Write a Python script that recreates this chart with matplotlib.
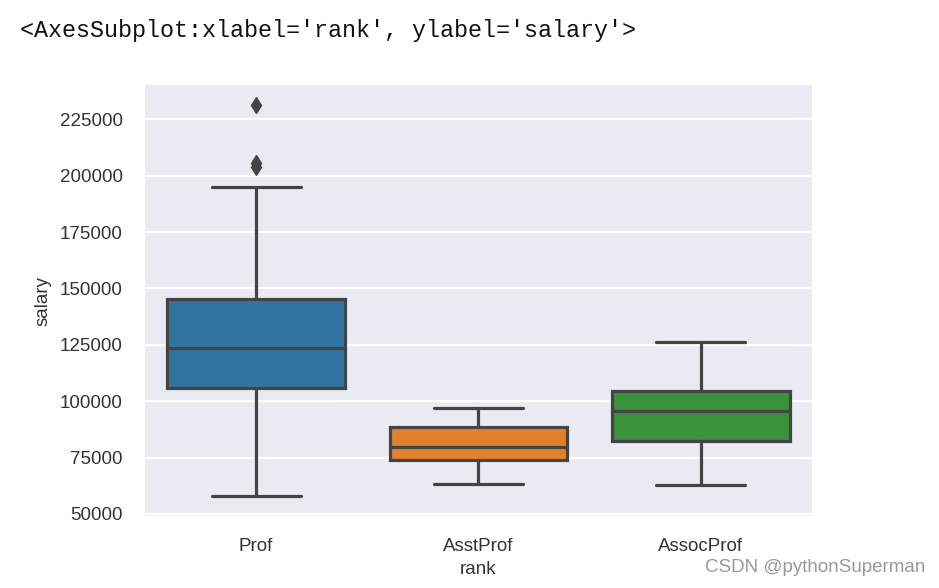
import matplotlib
matplotlib.use("Agg")
import matplotlib.pyplot as plt
import seaborn as sns

sns.set_theme(style="darkgrid")
plt.rcParams['font.family'] = ['Liberation Sans', 'DejaVu Sans']

# box statistics per rank
ranks = ["Prof", "AsstProf", "AssocProf"]
q1 = [105890, 74000, 82350]
medians = [123500, 79800, 95626]
q3 = [145098, 88597, 104330]
whis_lo = [57800, 63100, 62884]
whis_hi = [194800, 97032, 126431]
fliers = [[231545, 204000, 205500], [], []]
colors = ["#3274a1", "#e1812c", "#3a923a"]

stats = []
for i, r in enumerate(ranks):
    stats.append(dict(label=r, q1=q1[i], med=medians[i], q3=q3[i],
                      whislo=whis_lo[i], whishi=whis_hi[i], fliers=fliers[i]))

fig = plt.figure(figsize=(9.39, 5.88), dpi=100)
ax = fig.add_axes([145/939, 1-516/588, 667/939, 431/588])

line_c = "#444444"
lw = 2.3
bp = ax.bxp(stats, positions=range(len(ranks)), widths=0.8, patch_artist=True,
            boxprops=dict(edgecolor=line_c, linewidth=lw),
            medianprops=dict(color=line_c, linewidth=lw),
            whiskerprops=dict(color=line_c, linewidth=lw),
            capprops=dict(color=line_c, linewidth=lw),
            flierprops=dict(marker="d", markerfacecolor=line_c, markeredgecolor=line_c,
                            markersize=8))
for patch, c in zip(bp["boxes"], colors):
    patch.set_facecolor(c)

ax.set_xlim(-0.5, 2.5)
ax.set_ylim(49100, 240200)
ax.set_yticks([50000, 75000, 100000, 125000, 150000, 175000, 200000, 225000])
ax.set_yticklabels(["50000", "75000", "100000", "125000", "150000", "175000",
                    "200000", "225000"])
ax.tick_params(labelsize=13.5, colors="#333333", pad=10)
ax.grid(True, axis="both", color="white", linewidth=1.6)
ax.xaxis.grid(False)
for s in ax.spines.values():
    s.set_visible(False)
ax.set_xlabel("rank", fontsize=13.5, color="#333333", labelpad=4)
ax.set_ylabel("salary", fontsize=13.5, color="#333333", labelpad=6)

fig.text(20/939, 1-30/588, "<AxesSubplot:xlabel='rank', ylabel='salary'>",
         family="Liberation Mono", fontsize=16.8, va="center", ha="left", color="#111111")
fig.text(925/939, 1-568/588, "CSDN @pythonSuperman", fontsize=13.5, color="#999999",
         ha="right", va="center")

fig.savefig("out.png", dpi=100)
